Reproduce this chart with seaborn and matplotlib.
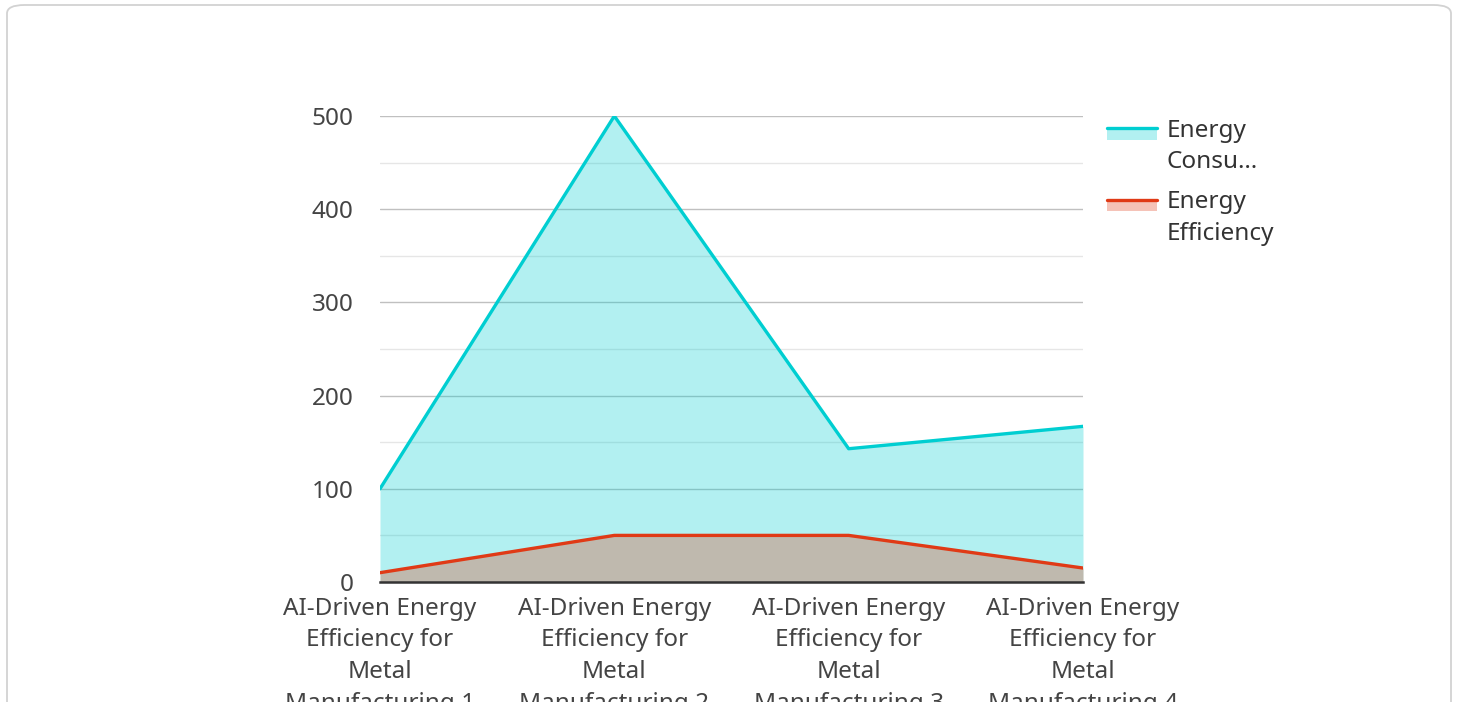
import textwrap

import matplotlib
matplotlib.use("Agg")
import matplotlib.pyplot as plt
from matplotlib.patches import FancyBboxPatch, Rectangle
from matplotlib.lines import Line2D
from matplotlib.ticker import MultipleLocator
import numpy as np
import pandas as pd
import seaborn as sns

# ---- data -------------------------------------------------------------
categories = [
    "AI-Driven Energy Efficiency for Metal Manufacturing 1",
    "AI-Driven Energy Efficiency for Metal Manufacturing 2",
    "AI-Driven Energy Efficiency for Metal Manufacturing 3",
    "AI-Driven Energy Efficiency for Metal Manufacturing 4",
]
energy_consumption = [100, 500, 143, 167]
energy_efficiency = [10, 50, 50, 15]
series_names = ["Energy Consumption", "Energy Efficiency"]
legend_labels = ["Energy\nConsu\u2026", "Energy\nEfficiency"]
y_ticks = [0, 100, 200, 300, 400, 500]

# ---- style ------------------------------------------------------------
sns.set_theme(style="white")
plt.rcParams["font.family"] = ["Noto Sans", "DejaVu Sans"]

W, H = 1458, 702
DPI = 100
FS = 17.5
CYAN = "#00CED1"
RED = "#E03A16"
TEXT = "#444444"

fig = plt.figure(figsize=(W / DPI, H / DPI), dpi=DPI)


def fx(px):
    return px / W


def fy(py):
    return 1 - py / H


# card background with rounded border
card = FancyBboxPatch(
    (fx(7), fy(760)), fx(1451) - fx(7), fy(5) - fy(760),
    boxstyle="round,pad=0,rounding_size=0.012",
    transform=fig.transFigure, facecolor="white",
    edgecolor="#d2d2d2", linewidth=1.3, zorder=-5,
)
fig.patches.append(card)

ax = fig.add_axes([fx(380), fy(582), fx(1083) - fx(380), fy(116) - fy(582)])
ax.set_zorder(1)
ax.set_facecolor("none")

df = pd.DataFrame({
    "idx": np.arange(len(categories)),
    series_names[0]: energy_consumption,
    series_names[1]: energy_efficiency,
})

# translucent areas
ax.fill_between(df["idx"], df[series_names[0]], color=CYAN, alpha=0.30,
                linewidth=0, zorder=2)
ax.fill_between(df["idx"], df[series_names[1]], color=RED, alpha=0.30,
                linewidth=0, zorder=3)

# series lines
sns.lineplot(data=df, x="idx", y=series_names[0], color=CYAN, linewidth=2.4,
             ax=ax, zorder=4)
sns.lineplot(data=df, x="idx", y=series_names[1], color=RED, linewidth=2.4,
             ax=ax, zorder=5)

ax.set_xlim(0, len(categories) - 1)
ax.set_ylim(0, 500)
ax.set_xlabel("")
ax.set_ylabel("")

# grid: major every 100, lighter minor every 50
ax.set_yticks(y_ticks)
ax.yaxis.set_minor_locator(MultipleLocator(50))
ax.grid(axis="y", which="major", color="#c0c0c0", linewidth=1.0, zorder=1)
ax.grid(axis="y", which="minor", color="#e6e6e6", linewidth=1.0, zorder=1)
ax.grid(axis="x", visible=False)
ax.set_axisbelow(True)

ax.set_xticks(df["idx"])
ax.set_xticklabels([textwrap.fill(c, width=16) for c in categories],
                   linespacing=1.43)
ax.tick_params(axis="x", length=0, pad=10.5, labelsize=FS, labelcolor=TEXT)
ax.tick_params(axis="y", which="both", length=0, pad=19, labelsize=FS,
               labelcolor=TEXT)

for side in ("top", "right", "left"):
    ax.spines[side].set_visible(False)
ax.spines["bottom"].set_color("#333333")
ax.spines["bottom"].set_linewidth(1.8)
ax.spines["bottom"].set_zorder(6)

# legend entries: filled swatch with a line along its top edge
legend_rows = [
    (CYAN, legend_labels[0], 127, 140, (137, 168)),
    (RED, legend_labels[1], 199, 211, (208, 240)),
]
for color, label, top, bottom, baselines in legend_rows:
    fig.patches.append(Rectangle(
        (fx(1107), fy(bottom)), fx(1157) - fx(1107), fy(top) - fy(bottom),
        transform=fig.transFigure, facecolor=color, alpha=0.30,
        edgecolor="none", zorder=3))
    fig.lines.append(Line2D([fx(1107), fx(1157)], [fy(top + 1), fy(top + 1)],
                            transform=fig.transFigure, color=color,
                            linewidth=2.4, zorder=4))
    for line_text, base in zip(label.split("\n"), baselines):
        fig.text(fx(1167), fy(base), line_text, fontsize=FS, color="#333333",
                 va="baseline", ha="left")

fig.savefig("out.png", dpi=DPI)
